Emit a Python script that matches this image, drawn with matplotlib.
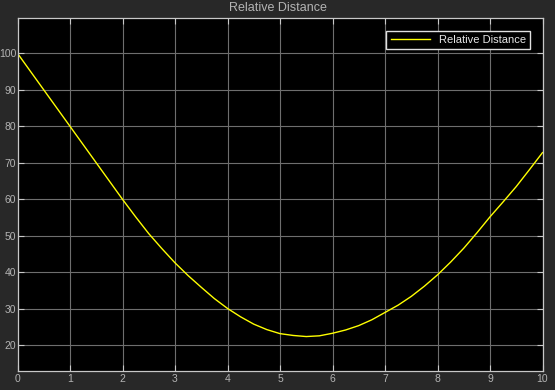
import numpy as np
import matplotlib
matplotlib.use("Agg")
import matplotlib.pyplot as plt

# values
time_s = [0, 0.5, 1, 1.5, 2, 2.25, 2.5, 2.75, 3, 3.25, 3.5, 3.75, 4, 4.25,
          4.5, 4.75, 5, 5.25, 5.5, 5.75, 6, 6.25, 6.5, 6.75, 7, 7.25, 7.5,
          7.75, 8, 8.25, 8.5, 8.75, 9, 9.25, 9.5, 9.75, 10]
rel_dist = [100, 90, 80, 70, 60, 55.2, 50.6, 46.5, 42.6, 39.1, 35.9, 32.8,
            30.1, 27.8, 25.8, 24.3, 23.2, 22.7, 22.4, 22.6, 23.3, 24.2, 25.4,
            27.0, 29.0, 31.0, 33.4, 36.2, 39.3, 42.8, 46.6, 50.8, 55.2, 59.3,
            63.5, 68.1, 72.8]
x_ticks = list(range(0, 11))
y_ticks = list(range(20, 101, 10))

fig_bg = "#282828"
light = "#b4b4b4"

plt.rcParams['font.family'] = ['Liberation Sans', 'DejaVu Sans']

fig = plt.figure(figsize=(5.55, 3.9), dpi=100, facecolor=fig_bg)
ax = fig.add_axes([17.5 / 555, 19 / 390, 525 / 555, 352.7 / 390])
ax.set_facecolor("black")

ax.plot(time_s, rel_dist, color="#ffff00", linewidth=1.0, label="Relative Distance")

ax.set_xlim(0, 10)
ax.set_ylim(12.96, 109.6)
ax.set_xticks(x_ticks)
ax.set_yticks(y_ticks)
ax.grid(True, color="#6e6e6e", linewidth=0.8)
for sp in ax.spines.values():
    sp.set_color("#c8c8c8")
    sp.set_linewidth(0.9)
ax.tick_params(direction="in", length=4, color="#c8c8c8", labelcolor=light,
               labelsize=7.5, top=True, right=True, pad=2)
ax.tick_params(axis="y", pad=1)

fig.text(0.5, 1 - 8 / 390, "Relative Distance", ha="center", va="center",
         color=light, fontsize=9)

leg = ax.legend(loc="upper right", fontsize=8, frameon=True, fancybox=False,
                handlelength=3.5, borderaxespad=1.1)
leg.get_frame().set_facecolor("black")
leg.get_frame().set_edgecolor("#e0e0e0")
leg.get_frame().set_alpha(1)
for t in leg.get_texts():
    t.set_color("#e6e6e6")

fig.savefig("out.png", dpi=100, facecolor=fig_bg)
